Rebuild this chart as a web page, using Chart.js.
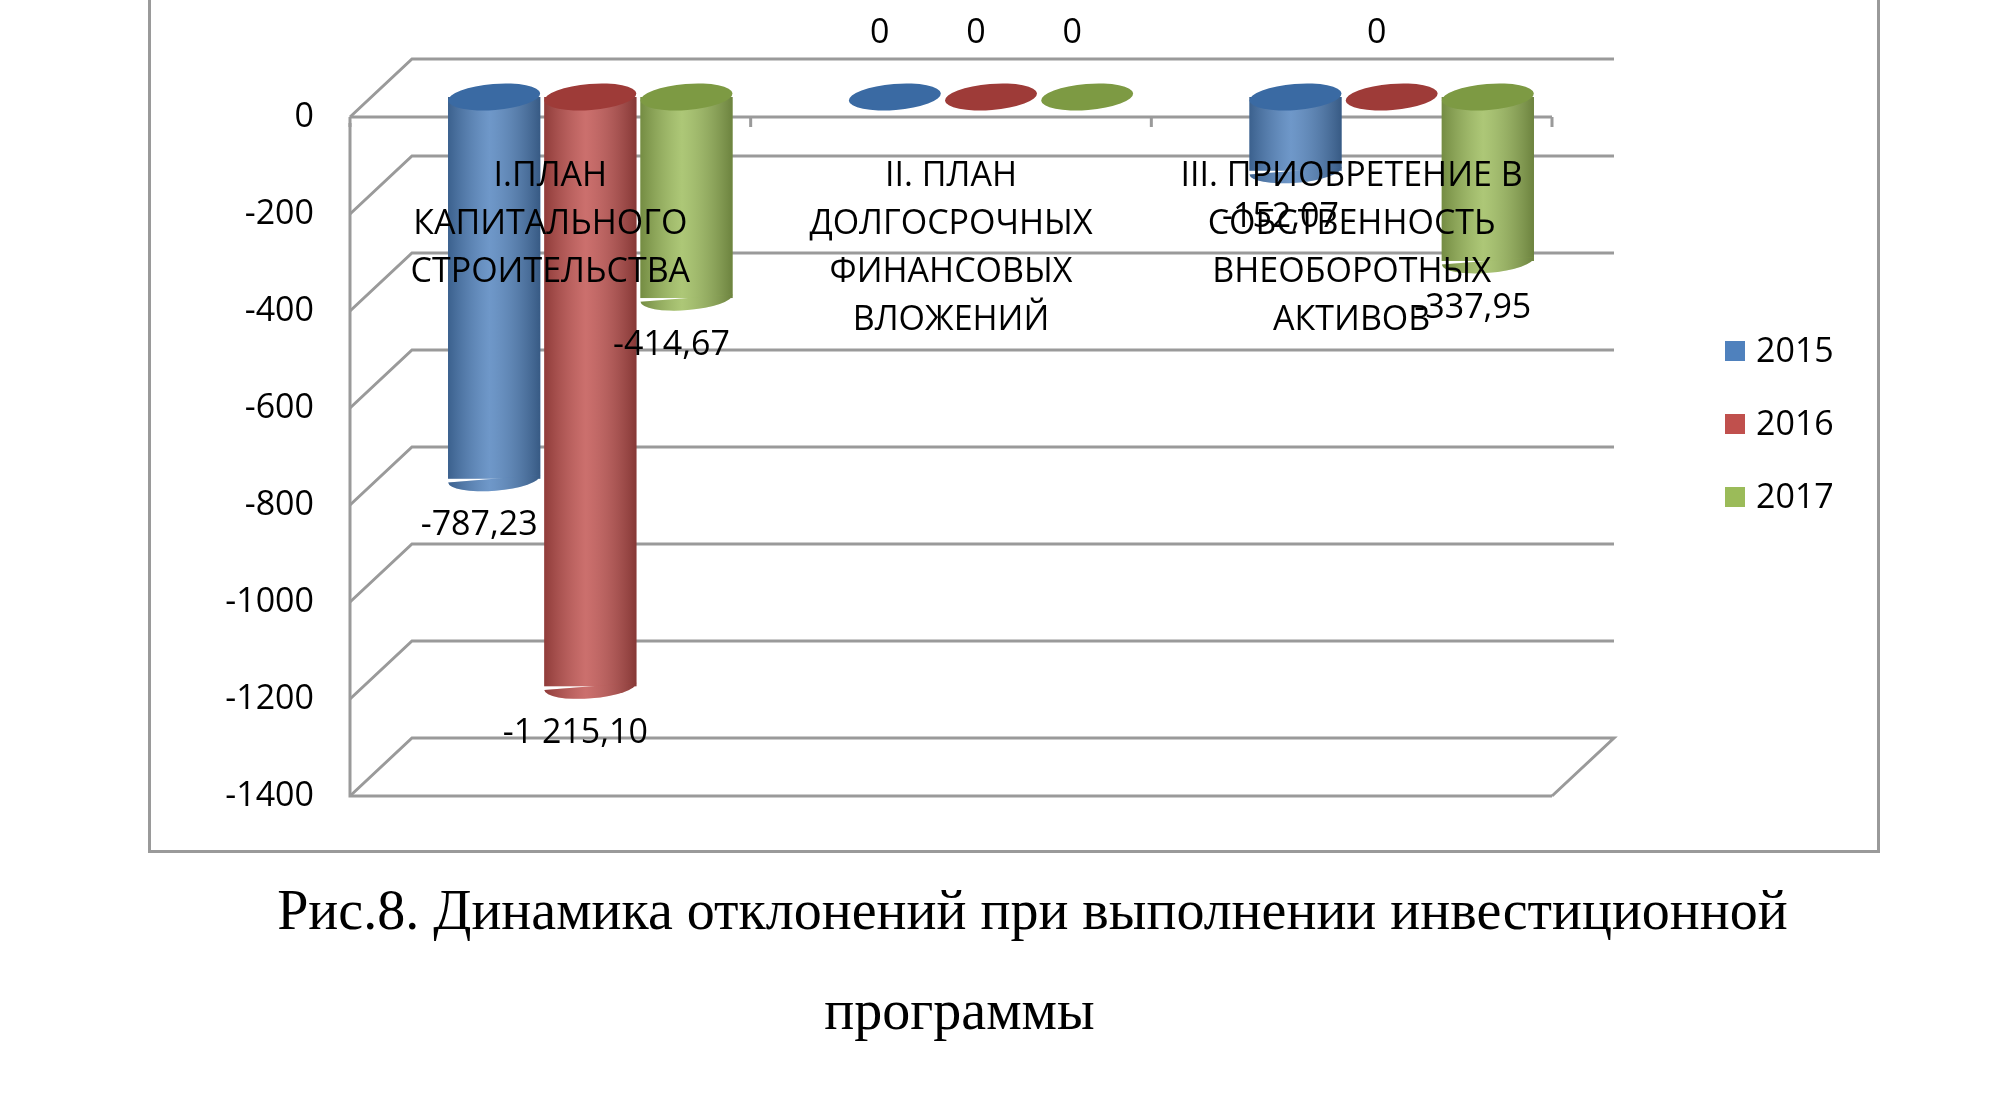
<!DOCTYPE html>
<html>
<head>
<meta charset="utf-8">
<script src="https://cdn.jsdelivr.net/npm/chart.js@4.4.0/dist/chart.umd.min.js"></script>
<style>
  body { margin: 0; background: #fff; }
  #wrap { position: relative; width: 2009px; height: 1120px; }
  #frame { position: absolute; left: 148px; top: -3px; width: 1726px; height: 850px; border: 3px solid #9a9a9a; }
  canvas { position: absolute; left: 0; top: 0; }
  .cap { position: absolute; width: 2009px; left: 0; text-align: center; font-family: "Liberation Serif", serif; font-size: 56px; color: #000; }
</style>
</head>
<body>
<div id="wrap">
  <div id="frame"></div>
  <canvas id="chart" width="2009" height="1120"></canvas>
  <div class="cap" style="top:878px;left:28px">Рис.8. Динамика отклонений при выполнении инвестиционной</div>
  <div class="cap" style="top:978px;left:-45px">программы</div>
</div>
<script>
const categories = [
  ['I.ПЛАН', 'КАПИТАЛЬНОГО', 'СТРОИТЕЛЬСТВА'],
  ['II. ПЛАН', 'ДОЛГОСРОЧНЫХ', 'ФИНАНСОВЫХ', 'ВЛОЖЕНИЙ'],
  ['III. ПРИОБРЕТЕНИЕ В', 'СОБСТВЕННОСТЬ', 'ВНЕОБОРОТНЫХ', 'АКТИВОВ']
];
const years = ['2015', '2016', '2017'];
const values2015 = [-787.23, 0, -152.07];
const values2016 = [-1215.10, 0, 0];
const values2017 = [-414.67, 0, -337.95];
const colors = ['#4f81bd', '#c0504d', '#9bbb59'];
const darkColors = ['#3a6aa3', '#9e3b38', '#7d9a43'];
const yTicks = [0, -200, -400, -600, -800, -1000, -1200, -1400];

const font = '"Open Sans", "Noto Sans", sans-serif';
const fmt = v => v === 0 ? '0' : v.toFixed(2).replace('.', ',').replace(/^(-?)(\d)(\d{3}),/, '$1$2 $3,');
const OX = 40, OY = -20;

const deco = {
  id: 'deco',
  beforeDatasetsDraw(chart) {
    const { ctx, chartArea: a, scales: { y } } = chart;
    const dx = 62, dy = -58;
    ctx.save();
    ctx.strokeStyle = '#9a9a9a';
    ctx.lineWidth = 3;
    yTicks.forEach(t => {
      const py = y.getPixelForValue(t);
      ctx.beginPath();
      ctx.moveTo(a.left, py);
      ctx.lineTo(a.left + dx, py + dy);
      ctx.lineTo(a.right + dx, py + dy);
      if (t === -1400) ctx.lineTo(a.right, py);
      ctx.stroke();
    });
    ctx.beginPath();
    ctx.moveTo(a.left, y.getPixelForValue(0) + 6);
    ctx.lineTo(a.left, y.getPixelForValue(-1400));
    ctx.lineTo(a.right, y.getPixelForValue(-1400));
    ctx.stroke();
    const p0 = y.getPixelForValue(0);
    ctx.beginPath();
    ctx.moveTo(a.left, p0); ctx.lineTo(a.right, p0);
    for (let i = 0; i <= 3; i++) {
      const x = a.left + (a.right - a.left) * i / 3;
      ctx.moveTo(x, p0); ctx.lineTo(x, p0 + 10);
    }
    ctx.stroke();
    ctx.restore();
    ctx.save();
    ctx.translate(OX, OY);
  },
  afterDatasetsDraw(chart) {
    const { ctx, scales: { x } } = chart;
    chart.data.datasets.forEach((ds, di) => {
      chart.getDatasetMeta(di).data.forEach((bar, i) => {
        const w = bar.width, l = bar.x - w / 2;
        const top = bar.base, bot = bar.y;
        if (bot - top > 1) {
          const g = ctx.createLinearGradient(l, 0, l + w, 0);
          g.addColorStop(0, 'rgba(0,0,0,0.25)');
          g.addColorStop(0.45, 'rgba(255,255,255,0.18)');
          g.addColorStop(1, 'rgba(0,0,0,0.3)');
          ctx.fillStyle = g;
          ctx.fillRect(l, top, w, bot - top);
          ctx.fillStyle = colors[di];
          ctx.beginPath();
          ctx.ellipse(bar.x, bot, w / 2, 12, -0.08, 0, Math.PI);
          ctx.fill();
          ctx.fillStyle = g;
          ctx.fill();
        }
        ctx.fillStyle = darkColors[di];
        ctx.beginPath();
        ctx.ellipse(bar.x, top, w / 2, 13, -0.08, 0, 2 * Math.PI);
        ctx.fill();
      });
    });
    ctx.restore();
    ctx.save();
    ctx.fillStyle = '#000';
    ctx.font = '34px ' + font;
    ctx.textAlign = 'center';
    ctx.textBaseline = 'middle';
    chart.data.datasets.forEach((ds, di) => {
      chart.getDatasetMeta(di).data.forEach((bar, i) => {
        const v = ds.data[i];
        const lx = bar.x + OX - 15;
        if (v === 0) ctx.fillText('0', lx, 33);
        else ctx.fillText(fmt(v), lx, bar.y + OY + 47);
      });
    });
    categories.forEach((lines, i) => {
      const cx = x.getPixelForValue(i);
      lines.forEach((s, k) => ctx.fillText(s, cx, 176 + k * 48));
    });
    ctx.textAlign = 'left';
    years.forEach((yr, i) => {
      const ly = 352 + i * 73;
      ctx.fillStyle = colors[i];
      ctx.fillRect(1725, ly - 11, 20, 20);
      ctx.fillStyle = '#000';
      ctx.fillText(yr, 1756, ly);
    });
    ctx.restore();
  }
};

new Chart(document.getElementById('chart'), {
  type: 'bar',
  data: {
    labels: categories.map(c => c.join(' ')),
    datasets: [
      { label: years[0], data: values2015, backgroundColor: colors[0] },
      { label: years[1], data: values2016, backgroundColor: colors[1] },
      { label: years[2], data: values2017, backgroundColor: colors[2] }
    ]
  },
  options: {
    responsive: false,
    animation: false,
    layout: { padding: { left: 200, right: 457, top: 117, bottom: 324 } },
    categoryPercentage: 0.72,
    barPercentage: 0.96,
    plugins: { legend: { display: false }, tooltip: { enabled: false } },
    scales: {
      x: { display: false },
      y: {
        min: -1400, max: 0,
        grid: { display: false },
        border: { display: false },
        afterFit: s => { s.width = 150; },
        ticks: { stepSize: 200, color: '#000', font: { size: 34, family: font }, padding: 28, callback: v => String(v) }
      }
    }
  },
  plugins: [deco]
});
</script>
</body>
</html>
